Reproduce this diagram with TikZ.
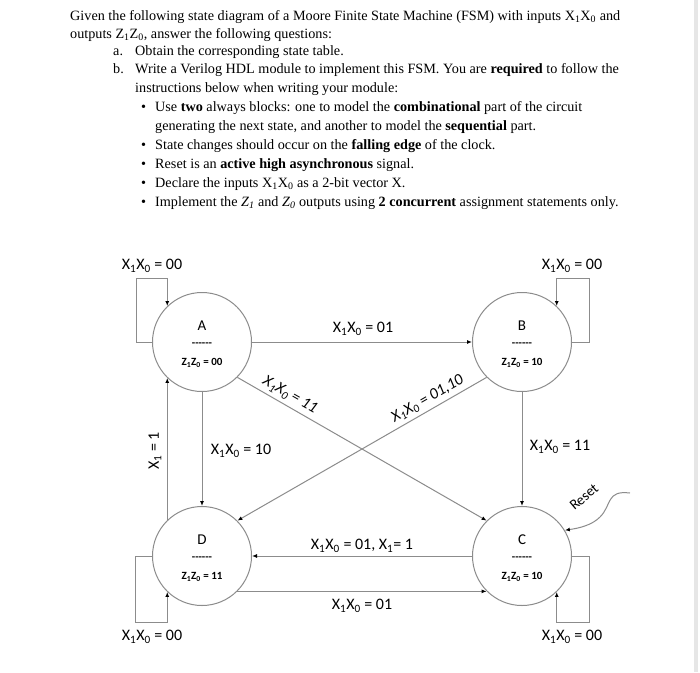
\documentclass[tikz,border=0pt]{standalone}
\usepackage{fontspec}
\setmainfont{Liberation Serif}
\newfontfamily\calfont{Carlito}
\usetikzlibrary{arrows.meta}
\definecolor{linegray}{RGB}{140,140,140}
\definecolor{edgegray}{RGB}{230,230,230}
\newcommand{\xx}[1]{X\textsubscript{1}X\textsubscript{0} = #1}
\begin{document}
\begin{tikzpicture}[x=1pt,y=-1pt,
  txt/.style={anchor=base west, inner sep=0pt, font=\fontsize{14.2}{16}\selectfont},
  state/.style={circle, draw=linegray, line width=1pt, minimum size=99pt, inner sep=0pt},
  sname/.style={font=\calfont\fontsize{15}{17}\selectfont, inner sep=0pt},
  sdash/.style={font=\calfont\bfseries\fontsize{11}{12}\selectfont, inner sep=0pt},
  sout/.style={font=\calfont\bfseries\fontsize{11}{12}\selectfont, inner sep=0pt},
  tr/.style={draw=linegray, line width=1pt, -{Latex[length=5pt,width=4pt,color=black]}},
  lbl/.style={font=\calfont\fontsize{16}{18}\selectfont, inner sep=1pt},
  slbl/.style={font=\calfont\itshape\fontsize{16}{18}\selectfont, inner sep=3.5pt, sloped, above},
]
\useasboundingbox[fill=white] (0,0) rectangle (700,672);
\fill[edgegray] (694,0) rectangle (698,672);

% question text
\node[txt] (t1) at (70,20) {Given the following state diagram of a Moore Finite State Machine (FSM) with inputs X\textsubscript{1}X\textsubscript{0} and};
\node[txt] (t2) at (70,38) {outputs Z\textsubscript{1}Z\textsubscript{0}, answer the following questions:};
\node[txt] (ta) at (113,55) {a.};
\node[txt] (ta2) at (135,55) {Obtain the corresponding state table.};
\node[txt] (tb) at (113,73) {b.};
\node[txt] (tb2) at (135,73) {Write a Verilog HDL module to implement this FSM. You are \textbf{required} to follow the};
\node[txt] (tb3) at (135,92) {instructions below when writing your module:};
\node[txt] (u1) at (141,111) {\textbullet};
\node[txt] (b1) at (155,111) {Use \textbf{two} always blocks: one to model the \textbf{combinational} part of the circuit};
\node[txt] (b1b) at (155,130) {generating the next state, and another to model the \textbf{sequential} part.};
\node[txt] (u2) at (141,149) {\textbullet};
\node[txt] (b2) at (155,149) {State changes should occur on the \textbf{falling edge} of the clock.};
\node[txt] (u3) at (141,168) {\textbullet};
\node[txt] (b3) at (155,168) {Reset is an \textbf{active high asynchronous} signal.};
\node[txt] (u4) at (141,187) {\textbullet};
\node[txt] (b4) at (155,187) {Declare the inputs X\textsubscript{1}X\textsubscript{0} as a 2-bit vector X.};
\node[txt] (u5) at (141,206) {\textbullet};
\node[txt] (b5) at (155,206) {Implement the \textit{Z\textsubscript{1}} and \textit{Z\textsubscript{0}} outputs using \textbf{2 concurrent} assignment statements only.};

% states
\node[state] (A) at (202,342) {};
\node[state] (B) at (522,342) {};
\node[state] (C) at (522,556) {};
\node[state] (D) at (202,556) {};
\foreach \s/\o in {A/00,B/10,C/10,D/11}{
  \node[sname] (\s n) at ([yshift=16pt]\s.center) {\s};
  \node[sdash] (\s d) at ([yshift=-3pt]\s.center) {-{}-{}-{}-{}-{}-};
  \node[sout] (\s o) at ([yshift=-21pt]\s.center) {Z\textsubscript{1}Z\textsubscript{0} = \o};
}

% self loops
\draw[tr] (A.west) -- ++(-16,0) -- ++(0,-64) -| (A.134);
\draw[tr] (B.east) -- ++(17,0) -- ++(0,-64) -| (B.46);
\draw[tr] (D.west) -- ++(-17,0) -- ++(0,66) -| (D.226);
\draw[tr] (C.east) -- ++(17,0) -- ++(0,66) -| (C.-46);
\node[lbl] (lA) at (152,266) {\xx{00}};
\node[lbl] (lB) at (572,266) {\xx{00}};
\node[lbl] (lD) at (152,637) {\xx{00}};
\node[lbl] (lC) at (572,637) {\xx{00}};

% transitions
\draw[tr] (A.east) -- (B.west);
\node[lbl] (lAB) at (363,329) {\xx{01}};
\draw[tr] (A.south) -- (D.north);
\node[lbl] (lAD) at (241,451) {\xx{10}};
\draw[tr] (D.134) -- (A.226);
\node[lbl, rotate=90] (lDA) at (155,451) {X\textsubscript{1} = 1};
\draw[tr] (B.south) -- (C.north);
\node[lbl] (lBC) at (560,447) {\xx{11}};
\draw[tr] (C.west) -- (D.east);
\node[lbl] (lCD) at (362,546) {\xx{01}, X\textsubscript{1}= 1};
\draw[tr] (D.-45) -- (C.225);
\node[lbl] (lDC) at (362,606) {\xx{01}};
\draw[tr] (A.-45) -- node[slbl, pos=0.19] (lAC) {\xx{11}} (C.135);
\draw[tr] (B.225) -- node[slbl, pos=0.216] (lBD) {\xx{01,10}} (D.45);

% reset
\coordinate (rs) at (630,493);
\draw[tr] (rs) .. controls (606,490) and (612,505) .. (600,517) .. controls (592,525) and (580,528) .. (C.31);
\node[font=\calfont\fontsize{14.5}{16}\selectfont, rotate=40, inner sep=0pt] (rl) at (584,497) {Reset};
\end{tikzpicture}
\end{document}
